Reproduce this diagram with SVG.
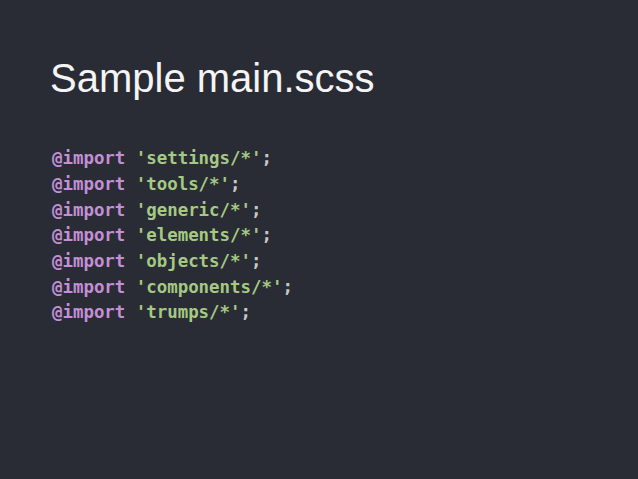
<svg xmlns="http://www.w3.org/2000/svg" width="638" height="479" viewBox="0 0 638 479">
<style>
.t{font-family:"Liberation Sans",Arial,sans-serif;font-size:40px;fill:#f4f4f4}
.c{font-family:"DejaVu Sans Mono",monospace;font-size:17.4px;font-weight:bold;white-space:pre}
.k{fill:#c48fd6}.s{fill:#a5c983}.p{fill:#c8c8c8}
</style>
<rect width="638" height="479" fill="#292c34"/>
<text class="t" x="50" y="92">Sample main.scss</text>
<g class="c">
<text x="52" y="164"><tspan class="k">@import</tspan> <tspan class="s">'settings/*'</tspan><tspan class="p">;</tspan></text>
<text x="52" y="190"><tspan class="k">@import</tspan> <tspan class="s">'tools/*'</tspan><tspan class="p">;</tspan></text>
<text x="52" y="216"><tspan class="k">@import</tspan> <tspan class="s">'generic/*'</tspan><tspan class="p">;</tspan></text>
<text x="52" y="241"><tspan class="k">@import</tspan> <tspan class="s">'elements/*'</tspan><tspan class="p">;</tspan></text>
<text x="52" y="267"><tspan class="k">@import</tspan> <tspan class="s">'objects/*'</tspan><tspan class="p">;</tspan></text>
<text x="52" y="293"><tspan class="k">@import</tspan> <tspan class="s">'components/*'</tspan><tspan class="p">;</tspan></text>
<text x="52" y="318"><tspan class="k">@import</tspan> <tspan class="s">'trumps/*'</tspan><tspan class="p">;</tspan></text>
</g>
</svg>
